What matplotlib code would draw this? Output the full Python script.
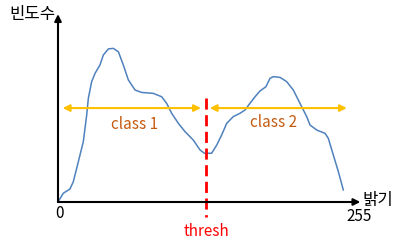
import matplotlib
matplotlib.use("Agg")
import matplotlib.pyplot as plt

plt.rcParams['font.family'] = ['Noto Sans CJK KR', 'DejaVu Sans']

# Histogram curve (brightness, frequency)
brightness = [0, 4.5, 10.2, 13.0, 17.3, 21.5, 24.4, 25.8, 28.6, 31.5, 35.7, 38.5, 42.8, 47.0,
              51.3, 55.5, 59.8, 65.5, 71.1, 81.0, 88.1, 92.4, 96.6, 102.3, 108.0, 115.0,
              120.7, 124.4, 130.6, 134.9, 139.1, 143.4, 149.0, 154.7, 159.0, 163.2, 167.5,
              171.7, 176.8, 180.2, 183.0, 188.7, 194.4, 200.0, 204.3, 208.5, 211.4, 214.2,
              219.9, 227.0, 229.8, 234.0, 238.3, 242.5]
frequency = [0, 4.7, 7.0, 10.9, 21.7, 32.4, 46.8, 55.8, 64.7, 69.2, 73.7, 79.0, 82.3, 82.6,
             80.8, 73.7, 65.6, 60.2, 58.9, 58.4, 56.6, 53.0, 47.7, 42.3, 37.8, 33.3,
             28.0, 26.2, 26.2, 30.6, 36.0, 42.3, 45.9, 47.7, 49.5, 53.1, 56.6,
             59.7, 62.0, 66.5, 67.4, 67.0, 64.7, 60.2, 54.8, 49.5, 45.9, 41.4,
             38.7, 36.9, 34.2, 25.3, 16.3, 6.5]
thresh = 126
class_labels = ["class 1", "class 2"]
class_ranges = [(4, 121.5), (129, 245.5)]
x_label = "밝기"
y_label = "빈도수"
x_ticks = ["0", "255"]

fig = plt.figure(figsize=(4.12, 2.47), dpi=100)
W, H = 412, 247
ax = fig.add_axes([58 / W, 45 / H, 300 / W, 186 / H])
ax.set_xlim(0, 255)
ax.set_ylim(0, 100)
ax.axis('off')

ax.plot(brightness, frequency, color='#4F81BD', lw=1.1, clip_on=False)

# axes with arrows
ax.annotate('', xy=(257, 0), xytext=(0, 0),
            arrowprops=dict(arrowstyle='-|>', color='black', lw=1.5,
                            mutation_scale=10, shrinkA=0, shrinkB=0),
            annotation_clip=False)
ax.annotate('', xy=(0, 101), xytext=(0, 0),
            arrowprops=dict(arrowstyle='-|>', color='black', lw=1.5,
                            mutation_scale=10, shrinkA=0, shrinkB=0),
            annotation_clip=False)

# threshold line
ax.plot([thresh, thresh], [56, -8], color='#FF0000', lw=2, ls=(0, (4, 2)), clip_on=False)

# class arrows
for (a, b), lab in zip(class_ranges, class_labels):
    ax.annotate('', xy=(b, 50.5), xytext=(a, 50.5),
                arrowprops=dict(arrowstyle='<|-|>', color='#FFC000', lw=1.5,
                                mutation_scale=10, shrinkA=0, shrinkB=0),
                annotation_clip=False)
ax.text(65.5, 41.5, class_labels[0], color='#C55A11', fontsize=11, ha='center', va='center')
ax.text(183.5, 42.5, class_labels[1], color='#C55A11', fontsize=11, ha='center', va='center')

ax.text(-22, 101, y_label, fontsize=12, ha='center', va='center', clip_on=False)
ax.text(272, 1, x_label, fontsize=12, ha='center', va='center', clip_on=False)
ax.text(1, -6, x_ticks[0], fontsize=11, ha='center', va='center')
ax.text(256, -8, x_ticks[1], fontsize=11, ha='center', va='center')
ax.text(thresh, -16, "thresh", color='#FF0000', fontsize=11, ha='center', va='center')

fig.savefig('out.png', dpi=100)
